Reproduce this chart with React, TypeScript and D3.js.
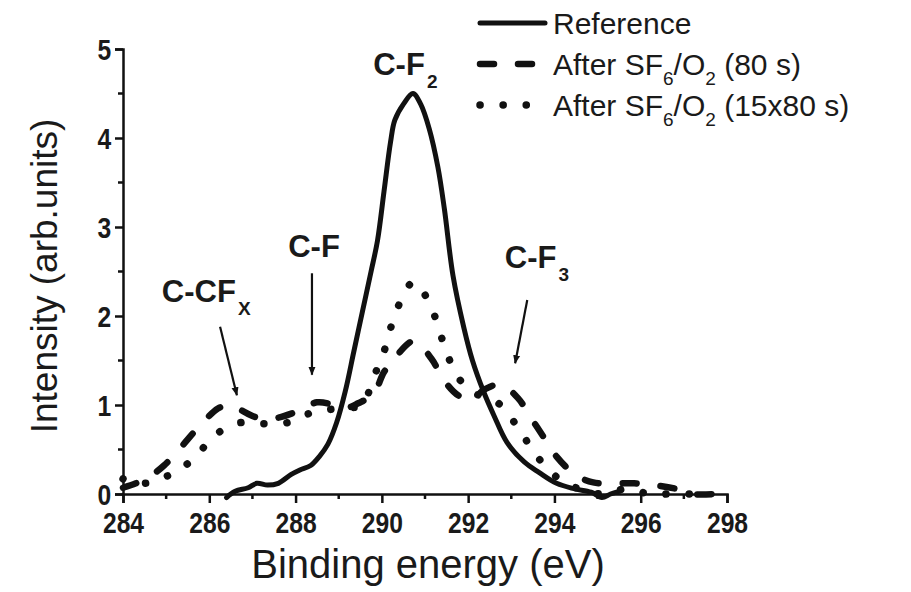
import React, { useEffect, useRef } from "react";
import * as d3 from "d3";

// Reference (solid)
const refE = [286.4, 286.6, 286.9, 287.1, 287.35, 287.6, 287.9, 288.1, 288.35, 288.55, 288.75, 288.95, 289.15, 289.35, 289.55, 289.75, 289.9, 290.05, 290.2, 290.3, 290.5, 290.72, 290.9, 291.1, 291.3, 291.45, 291.65, 291.9, 292.1, 292.35, 292.6, 292.9, 293.3, 293.65, 294.05, 294.45, 294.85, 295.1, 295.3, 295.5];
const refI = [-0.04, 0.03, 0.07, 0.12, 0.1, 0.12, 0.22, 0.27, 0.32, 0.42, 0.56, 0.8, 1.15, 1.6, 2.05, 2.5, 2.85, 3.4, 3.95, 4.2, 4.38, 4.5, 4.38, 4.1, 3.67, 3.2, 2.45, 1.87, 1.5, 1.16, 0.88, 0.58, 0.36, 0.24, 0.12, 0.06, 0.02, -0.04, 0.0, 0.03];

// After SF6/O2 (80 s) (dashed)
const dashE = [284.0, 284.3, 284.6, 284.95, 285.35, 285.75, 286.2, 286.45, 286.7, 287.1, 287.5, 288.0, 288.5, 288.9, 289.2, 289.45, 289.8, 290.05, 290.35, 290.75, 291.15, 291.45, 291.8, 292.1, 292.4, 292.75, 293.15, 293.45, 293.75, 294.05, 294.5, 294.9, 295.4, 295.85, 296.3, 296.8, 297.2, 297.7];
const dashI = [0.07, 0.12, 0.19, 0.32, 0.53, 0.75, 0.96, 1.0, 0.95, 0.86, 0.85, 0.92, 1.03, 1.0, 0.97, 1.02, 1.12, 1.37, 1.56, 1.72, 1.52, 1.27, 1.1, 1.08, 1.18, 1.23, 1.08, 0.86, 0.64, 0.42, 0.21, 0.13, 0.12, 0.12, 0.1, 0.06, 0.0, 0.0];

// After SF6/O2 (15x80 s) (dotted)
const dotE = [284.0, 284.5, 285.1, 285.65, 286.1, 286.7, 287.25, 287.8, 288.35, 288.8, 289.3, 289.55, 289.8, 290.05, 290.2, 290.4, 290.73, 291.08, 291.3, 291.47, 291.7, 291.95, 292.2, 292.7, 293.15, 293.5, 293.95, 294.5, 295.1, 295.7, 296.2, 296.7, 297.3];
const dotI = [0.17, 0.12, 0.22, 0.4, 0.65, 0.8, 0.79, 0.8, 0.91, 0.95, 0.97, 1.0, 1.3, 1.6, 1.86, 2.13, 2.38, 2.17, 1.89, 1.63, 1.37, 1.2, 1.12, 1.02, 0.75, 0.49, 0.23, 0.07, 0.0, 0.06, 0.0, 0.0, 0.0];

const xTicks = [284, 286, 288, 290, 292, 294, 296, 298];
const yTicks = [0, 1, 2, 3, 4, 5];

// peak labels: main text, subscript, label position, arrow from/to (data units)
const peakMain = ["C-F", "C-F", "C-CF", "C-F"];
const peakSub = ["2", "", "X", "3"];
const peakPos = [[289.8, 4.71], [287.83, 2.66], [284.9, 2.16], [292.85, 2.54]];
const peakArrow = [null, [288.38, 2.48, 288.38, 1.34], [286.25, 1.88, 286.64, 1.11], [293.37, 2.18, 293.09, 1.47]];

const FONT = "'Liberation Sans', Arial, sans-serif";

export default function App() {
  const ref = useRef<SVGSVGElement>(null);

  useEffect(() => {
    const width = 911;
    const height = 592;
    const svg = d3.select(ref.current).attr("width", width).attr("height", height);
    svg.selectAll("*").remove();

    const x = d3.scaleLinear().domain([284, 298]).range([123, 727]);
    const y = d3.scaleLinear().domain([0, 5]).range([494, 49]);

    const defs = svg.append("defs");
    defs.append("marker")
      .attr("id", "arr")
      .attr("viewBox", "0 0 10 10")
      .attr("refX", 9).attr("refY", 5)
      .attr("markerWidth", 4).attr("markerHeight", 4)
      .attr("orient", "auto")
      .append("path").attr("d", "M0,1 L10,5 L0,9 Z").attr("fill", "#111");

    // axes
    const xAxis = d3.axisBottom(x).tickValues(xTicks).tickSize(9).tickFormat(d3.format("d"));
    const yAxis = d3.axisLeft(y).tickValues(yTicks).tickSize(8).tickFormat(d3.format("d"));

    const gx = svg.append("g").attr("transform", `translate(0,${y(0)})`).call(xAxis);
    const gy = svg.append("g").attr("transform", `translate(${x(284)},0)`).call(yAxis);

    // minor ticks
    svg.append("g").selectAll("line").data(d3.range(285, 298, 2)).join("line")
      .attr("x1", d => x(d)).attr("x2", d => x(d))
      .attr("y1", y(0)).attr("y2", y(0) + 5)
      .attr("stroke", "#111").attr("stroke-width", 2.5);
    svg.append("g").selectAll("line").data(d3.range(0.5, 5, 1)).join("line")
      .attr("x1", x(284) - 5).attr("x2", x(284))
      .attr("y1", d => y(d)).attr("y2", d => y(d))
      .attr("stroke", "#111").attr("stroke-width", 2.5);

    [gx, gy].forEach(g => {
      g.select(".domain").attr("stroke", "#111").attr("stroke-width", 2.5);
      g.selectAll(".tick line").attr("stroke", "#111").attr("stroke-width", 2.5);
      g.selectAll(".tick text")
        .attr("fill", "#1a1a1a")
        .style("font-family", FONT)
        .style("font-weight", "bold")
        .style("font-size", "29px");
    });
    // condensed tick labels, like the original
    gx.selectAll(".tick text").attr("dy", 0).attr("y", 39).attr("transform", "scale(0.85,1)");
    gy.selectAll(".tick text").attr("x", -14).attr("dy", "0.36em").attr("transform", "scale(0.85,1)");

    // axis titles
    svg.append("text")
      .attr("x", 428).attr("y", 578)
      .attr("text-anchor", "middle")
      .style("font-family", FONT).style("font-size", "40px")
      .attr("fill", "#1a1a1a")
      .text("Binding energy (eV)");
    svg.append("text")
      .attr("transform", "translate(57,276) rotate(-90)")
      .attr("text-anchor", "middle")
      .style("font-family", FONT).style("font-size", "37px")
      .attr("fill", "#1a1a1a")
      .text("Intensity (arb.units)");

    // curves
    const line = d3.line<[number, number]>()
      .x(d => x(d[0])).y(d => y(d[1]))
      .curve(d3.curveCatmullRom.alpha(0.5));

    const series = [
      { e: refE, i: refI, dash: null, w: 5 },
      { e: dashE, i: dashI, dash: "14 24", w: 6.5 },
      { e: dotE, i: dotI, dash: "0.1 23", w: 7.5 },
    ];

    series.forEach(s => {
      const pts = s.e.map((e, k) => [e, s.i[k]] as [number, number]);
      svg.append("path")
        .attr("d", line(pts))
        .attr("fill", "none")
        .attr("stroke", "#111")
        .attr("stroke-width", s.w)
        .attr("stroke-linecap", "round")
        .attr("stroke-linejoin", "round")
        .attr("stroke-dasharray", s.dash);
    });

    // peak annotations
    peakMain.forEach((m, k) => {
      const [px, py] = peakPos[k];
      const t = svg.append("text")
        .attr("x", x(px)).attr("y", y(py))
        .style("font-family", FONT).style("font-weight", "bold").style("font-size", "31px")
        .attr("fill", "#1a1a1a");
      t.append("tspan").text(m);
      if (peakSub[k]) {
        t.append("tspan").attr("dx", 2).attr("dy", 13).style("font-size", "19px").text(peakSub[k]);
      }
      const a = peakArrow[k];
      if (a) {
        svg.append("line")
          .attr("x1", x(a[0])).attr("y1", y(a[1]))
          .attr("x2", x(a[2])).attr("y2", y(a[3]))
          .attr("stroke", "#111").attr("stroke-width", 2.2)
          .attr("marker-end", "url(#arr)");
      }
    });

    // legend
    const legendNames = [["Reference"], ["After SF", "6", "/O", "2", " (80 s)"], ["After SF", "6", "/O", "2", " (15x80 s)"]];
    const legendDash = [null, "14 24", "0.1 23"];
    const legendW = [5, 6.5, 7.5];
    const rows = [23, 64, 105];
    legendNames.forEach((parts, k) => {
      svg.append("line")
        .attr("x1", 480).attr("x2", 545)
        .attr("y1", rows[k]).attr("y2", rows[k])
        .attr("stroke", "#111")
        .attr("stroke-width", legendW[k])
        .attr("stroke-linecap", "round")
        .attr("stroke-dasharray", legendDash[k]);
      const t = svg.append("text")
        .attr("x", 553).attr("y", rows[k] + 11)
        .style("font-family", FONT).style("font-size", "30px")
        .attr("fill", "#1a1a1a");
      parts.forEach((p, j) => {
        const sub = j % 2 === 1;
        t.append("tspan")
          .attr("dy", sub ? 10 : j > 0 ? -10 : 0)
          .style("font-size", sub ? "19px" : "30px")
          .text(p);
      });
    });
  }, []);

  return (
    <svg ref={ref} style={{ position: "absolute", left: 0, top: 0, background: "#fff" }}></svg>
  );
}
